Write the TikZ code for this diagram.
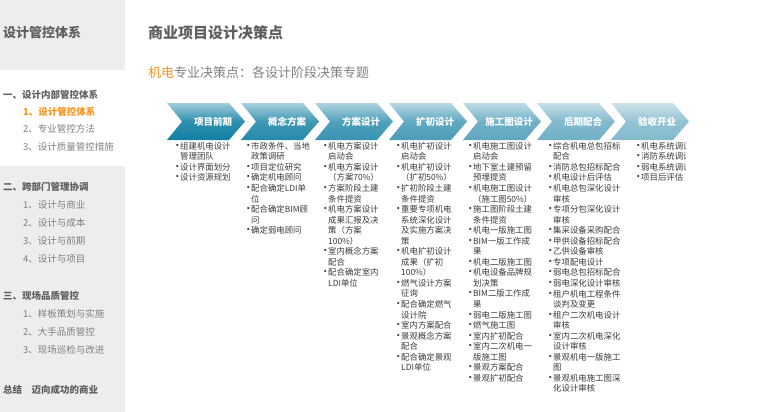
\documentclass[tikz,border=0pt]{standalone}
\usepackage{fontspec}
\setmainfont{Noto Sans CJK SC}
\usepackage{xcolor}
\usetikzlibrary{positioning}

\definecolor{sidegray}{HTML}{EDEDED}
\definecolor{headgray}{HTML}{5F5F5F}
\definecolor{txtgray}{HTML}{808080}
\definecolor{hiorange}{HTML}{F7941D}
\definecolor{bodytxt}{HTML}{3A3A3A}
\definecolor{chevA}{RGB}{18,128,163}
\definecolor{chevB}{RGB}{132,186,206}

\newcommand\itm{\makebox[8pt][l]{\fontsize{10.5}{10.5}\selectfont\textbullet}}
\newcommand\cnt{\hspace*{8pt}}

\begin{document}
\begin{tikzpicture}[x=1pt,y=-1pt,
		menu/.style={anchor=west,inner sep=0pt,text=txtgray,font=\fontsize{9.5}{11}\selectfont},
		menuhead/.style={menu,text=headgray,font=\fontsize{9.5}{11}\selectfont\bfseries},
		stagetxt/.style={text=white,font=\fontsize{9.5}{11}\selectfont\bfseries},
		col/.style={anchor=north west,inner sep=0pt,align=left,text=bodytxt,font=\fontsize{8.4}{10.55}\selectfont}]
		
		\useasboundingbox (0,0) rectangle (760,412);
		
		% side menu
		\fill[sidegray] (0,0) rectangle (125,70);
		
		\fill[sidegray] (0,166) rectangle (125,412);
		
		\node[anchor=west,inner sep=0pt,text=headgray,font=\fontsize{13}{15}\selectfont\bfseries] (menutitle) at (3,33) {设计管控体系};
		
		\node[menuhead] (sec1) at (3,95) {一、设计内部管控体系};
		\node[menu,text=hiorange,font=\fontsize{9.5}{11}\selectfont\bfseries] (sec1a) at (23,112) {1、设计管控体系};
		\node[menu] (sec1b) at (23,129) {2、专业管控方法};
		\node[menu] (sec1c) at (23,147) {3、设计质量管控措施};
		
		\node[menuhead] (sec2) at (3,187) {二、跨部门管理协调};
		\node[menu] (sec2a) at (23,205) {1、设计与商业};
		\node[menu] (sec2b) at (23,223) {2、设计与成本};
		\node[menu] (sec2c) at (23,241) {3、设计与前期};
		\node[menu] (sec2d) at (23,259) {4、设计与项目};
		
		\node[menuhead] (sec3) at (3,296) {三、现场品质管控};
		\node[menu] (sec3a) at (23,314) {1、样板策划与实施};
		\node[menu] (sec3b) at (23,332) {2、大手品质管控};
		\node[menu] (sec3c) at (23,350) {3、现场巡检与改进};
		
		\node[menuhead] (summary) at (3,390) {总结\quad 迈向成功的商业};
		
		% titles
		\node[anchor=west,inner sep=0pt,text=headgray,font=\fontsize{15}{17}\selectfont\bfseries] (title) at (148,33) {商业项目设计决策点};
		
		\node[anchor=west,inner sep=0pt,text=txtgray,font=\fontsize{13}{15}\selectfont] (subtitle) at (148,73) {\textcolor{hiorange}{机电}专业决策点：各设计阶段决策专题};
		
		% stage arrows
		\foreach \k/\lbl in {0/项目前期,1/概念方案,2/方案设计,3/扩初设计,4/施工图设计,5/后期配合,6/验收开业}{
			\pgfmathsetmacro\xa{167+74*\k}
			\pgfmathsetmacro\pct{100*\k/6}
			\colorlet{cc}{chevB!\pct!chevA}
			\shade[top color=cc!40!white,bottom color=cc,middle color=cc!88!white]
				(\xa,103) -- ++(62,0) -- ++(16,18.5) -- ++(-16,18.5) -- ++(-62,0) -- ++(15,-18.5) -- cycle;
			\node[stagetxt] (stage\k) at (\xa+46,121.5) {\lbl};
		}
		
		% decision lists
		\node[col] (list0) at (172,142) {\itm 组建机电设计\\ \cnt 管理团队\\ \itm 设计界面划分\\ \itm 设计资源规划};
		
		\node[col] (list1) at (243,142) {\itm 市政条件、当地\\ \cnt 政策调研\\ \itm 项目定位研究\\ \itm 确定机电顾问\\ \itm 配合确定LDI单\\ \cnt 位\\ \itm 配合确定BIM顾\\ \cnt 问\\ \itm 确定弱电顾问};
		
		\node[col] (list2) at (320,142) {\itm 机电方案设计\\ \cnt 启动会\\ \itm 机电方案设计\\ \cnt （方案70\%）\\ \itm 方案阶段土建\\ \cnt 条件提资\\ \itm 机电方案设计\\ \cnt 成果汇报及决\\ \cnt 策（方案\\ \cnt 100\%）\\ \itm 室内概念方案\\ \cnt 配合\\ \itm 配合确定室内\\ \cnt LDI单位};
		
		\node[col] (list3) at (393,142) {\itm 机电扩初设计\\ \cnt 启动会\\ \itm 机电扩初设计\\ \cnt （扩初50\%）\\ \itm 扩初阶段土建\\ \cnt 条件提资\\ \itm 重要专项机电\\ \cnt 系统深化设计\\ \cnt 及实施方案决\\ \cnt 策\\ \itm 机电扩初设计\\ \cnt 成果（扩初\\ \cnt 100\%）\\ \itm 燃气设计方案\\ \cnt 征询\\ \itm 配合确定燃气\\ \cnt 设计院\\ \itm 室内方案配合\\ \itm 景观概念方案\\ \cnt 配合\\ \itm 配合确定景观\\ \cnt LDI单位};
		
		\node[col] (list4) at (465,142) {\itm 机电施工图设计\\ \cnt 启动会\\ \itm 地下室土建预留\\ \cnt 预埋提资\\ \itm 机电施工图设计\\ \cnt （施工图50\%）\\ \itm 施工图阶段土建\\ \cnt 条件提资\\ \itm 机电一版施工图\\ \itm BIM一版工作成\\ \cnt 果\\ \itm 机电二版施工图\\ \itm 机电设备品牌规\\ \cnt 划决策\\ \itm BIM二版工作成\\ \cnt 果\\ \itm 弱电二版施工图\\ \itm 燃气施工图\\ \itm 室内扩初配合\\ \itm 室内二次机电一\\ \cnt 版施工图\\ \itm 景观方案配合\\ \itm 景观扩初配合};
		
		\node[col] (list5) at (545,142) {\itm 综合机电总包招标\\ \cnt 配合\\ \itm 消防总包招标配合\\ \itm 机电设计后评估\\ \itm 机电总包深化设计\\ \cnt 审核\\ \itm 专项分包深化设计\\ \cnt 审核\\ \itm 集采设备采购配合\\ \itm 甲供设备招标配合\\ \itm 乙供设备审核\\ \itm 专项配电设计\\ \itm 弱电总包招标配合\\ \itm 弱电深化设计审核\\ \itm 租户机电工程条件\\ \cnt 谈判及变更\\ \itm 租户二次机电设计\\ \cnt 审核\\ \itm 室内二次机电深化\\ \cnt 设计审核\\ \itm 景观机电一版施工\\ \cnt 图\\ \itm 景观机电施工图深\\ \cnt 化设计审核};
		
		\begin{scope}
			\clip (600,140) rectangle (685,412);
			\node[col] (list6) at (633,142) {\itm 机电系统调试\\ \itm 消防系统调试\\ \itm 弱电系统调试\\ \itm 项目后评估};
		\end{scope}
		
	\end{tikzpicture}
\end{document}
